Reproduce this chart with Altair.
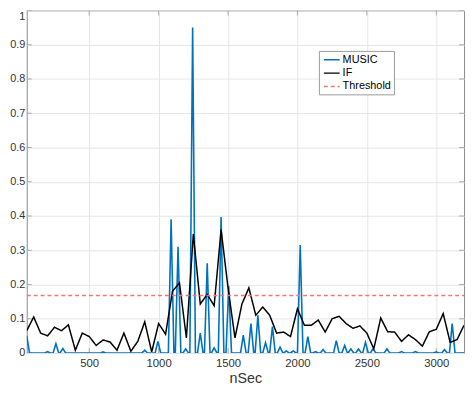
import altair as alt
import pandas as pd

# ---------------- data ----------------
SERIES = ["MUSIC", "IF", "Threshold"]
COLORS = ["#0072BD", "#000000", "#EE7777"]

IF_X = list(range(50, 3201, 50))
IF_Y = [0.065, 0.105, 0.058, 0.050, 0.075, 0.065, 0.082, 0.008, 0.058, 0.048,
        0.022, 0.038, 0.032, 0.008, 0.058, 0.005, 0.034, 0.091, 0.003, 0.086,
        0.055, 0.180, 0.205, 0.044, 0.347, 0.143, 0.171, 0.138, 0.360, 0.190,
        0.044, 0.143, 0.190, 0.110, 0.134, 0.110, 0.058, 0.061, 0.048, 0.129,
        0.081, 0.081, 0.096, 0.061, 0.100, 0.107, 0.086, 0.072, 0.079, 0.058,
        0.012, 0.102, 0.062, 0.061, 0.034, 0.053, 0.039, 0.020, 0.062, 0.069,
        0.115, 0.031, 0.039, 0.081]

# MUSIC spectrum: spike centres and heights (baseline is zero between spikes)
MUSIC_X = [50, 200, 260, 310, 600, 900, 995, 1090, 1140, 1195, 1245, 1300, 1350,
           1400, 1450, 1505, 1610, 1665, 1715, 1770, 1820, 1875, 1920, 1970,
           2020, 2075, 2130, 2185, 2280, 2340, 2385, 2440, 2490, 2545, 2645,
           2750, 2850, 3000, 3060, 3115, 3200]
MUSIC_Y = [0.050, 0.004, 0.027, 0.013, 0.003, 0.008, 0.034, 0.390, 0.310, 0.012,
           0.950, 0.058, 0.262, 0.015, 0.397, 0.195, 0.052, 0.086, 0.110, 0.030,
           0.077, 0.017, 0.006, 0.006, 0.315, 0.048, 0.004, 0.010, 0.036, 0.022,
           0.012, 0.012, 0.031, 0.012, 0.012, 0.004, 0.004, 0.003, 0.010, 0.086,
           0.000]
SPIKE_HALF_WIDTH = 20

THRESHOLD = 0.168
X_DOMAIN = [50, 3200]
X_TICKS = [500, 1000, 1500, 2000, 2500, 3000]
Y_TICKS = [0, 0.1, 0.2, 0.3, 0.4, 0.5, 0.6, 0.7, 0.8, 0.9, 1.0]

# ---------------- tables ----------------
rows = []
for cx, cy in zip(MUSIC_X, MUSIC_Y):
    for px, py in ((cx - SPIKE_HALF_WIDTH, 0.0), (cx, cy), (cx + SPIKE_HALF_WIDTH, 0.0)):
        if X_DOMAIN[0] <= px <= X_DOMAIN[1]:
            rows.append((px, py))
music = pd.DataFrame(rows, columns=["x", "y"]).sort_values("x", kind="stable").reset_index(drop=True)
music["order"] = range(len(music))
music["series"] = "MUSIC"

iff = pd.DataFrame({"x": IF_X, "y": IF_Y})
iff["order"] = range(len(iff))
iff["series"] = "IF"

thr = pd.DataFrame({"x": X_DOMAIN, "y": [THRESHOLD, THRESHOLD], "series": "Threshold"})
thr["order"] = [0, 1]

yt = pd.DataFrame({"y": Y_TICKS})
xt = pd.DataFrame({"x": X_TICKS})

# ---------------- encodings ----------------
W, H = 443, 347
FRAME = "#8c8c8c"
TXT = "#333333"
xs = alt.Scale(domain=X_DOMAIN, nice=False, zero=False)
ys = alt.Scale(domain=[0, 1], nice=False)

legend = alt.Legend(
    title=None, orient="none", legendX=296, legendY=41,
    symbolType="M-0.8,0L2.4,0", symbolSize=100, symbolStrokeWidth=1.5,
    labelFontSize=11, labelColor="#000000", labelOffset=9,
    padding=3, rowPadding=2.5, fillColor="#ffffff", strokeColor="#9a9a9a",
)
color = alt.Color("series:N", scale=alt.Scale(domain=SERIES, range=COLORS), legend=legend)
dash = alt.StrokeDash("series:N",
                      scale=alt.Scale(domain=SERIES, range=[[1, 0], [1, 0], [4, 3]]),
                      legend=legend)

x_axis = alt.Axis(
    values=X_TICKS, format="d", title="nSec", grid=True, gridColor="#e6e6e6",
    domain=False, tickSize=0, labelPadding=5, labelFontSize=11.5, labelColor=TXT,
    titleFontSize=14.5, titleFontWeight="normal", titleColor=TXT, titlePadding=2)
y_axis = alt.Axis(
    values=Y_TICKS, format=".1~f", title=None, grid=True, gridColor="#e6e6e6",
    domain=False, tickSize=0, labelPadding=2, labelFontSize=11, labelColor=TXT,
    labelBaseline={"condition": {"test": "datum.value >= 1", "value": "top"},
                   "value": "middle"})
xenc = alt.X("x:Q", scale=xs, axis=x_axis)
yenc = alt.Y("y:Q", scale=ys, axis=y_axis)


def series_line(df, width):
    return alt.Chart(df).mark_line(strokeWidth=width, clip=True).encode(
        x=xenc, y=yenc, color=color, strokeDash=dash, order="order:Q")


music_layer = series_line(music, 1.6)
if_layer = series_line(iff, 1.5)
thr_layer = series_line(thr, 1.5)

# small inward ticks on all four sides of the box (MATLAB style)
tick_kw = dict(size=10, thickness=1, clip=True, color=FRAME)
left_ticks = alt.Chart(yt).mark_tick(orient="horizontal", **tick_kw).encode(
    y=yenc, x=alt.value(0))
right_ticks = alt.Chart(yt).mark_tick(orient="horizontal", **tick_kw).encode(
    y=yenc, x=alt.value(W))
top_ticks = alt.Chart(xt).mark_tick(orient="vertical", **tick_kw).encode(
    x=xenc, y=alt.value(0))
bottom_ticks = alt.Chart(xt).mark_tick(orient="vertical", **tick_kw).encode(
    x=xenc, y=alt.value(H))

chart = alt.layer(
    left_ticks, right_ticks, top_ticks, bottom_ticks,
    music_layer, if_layer, thr_layer,
).properties(
    width=W, height=H,
    autosize=alt.AutoSizeParams(type="none"),
    padding={"left": 19, "top": 0, "right": 2, "bottom": 32},
).configure(
    font="Liberation Sans", background="#ffffff"
).configure_view(
    stroke=FRAME, strokeWidth=1
)

chart.save("out.html", embed_options={"renderer": "svg", "actions": False})
